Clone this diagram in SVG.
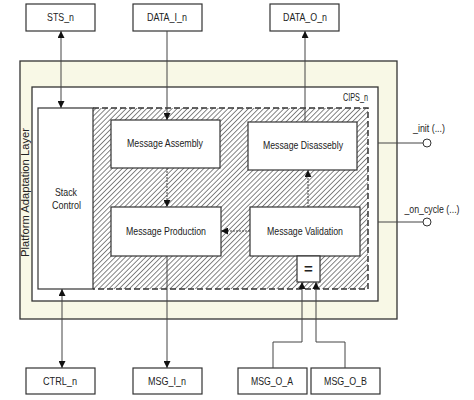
<svg xmlns="http://www.w3.org/2000/svg" width="474" height="400" viewBox="0 0 474 400">
<style>
.box{fill:#fff;stroke:#333;stroke-width:1.2}
.t{font-family:"Liberation Sans",Arial,sans-serif;font-size:10.5px;fill:#222;text-anchor:middle}
.ln{fill:none;stroke:#444;stroke-width:1}
.dot{fill:none;stroke:#444;stroke-width:1;stroke-dasharray:2,1}
</style>
<defs>
<pattern id="hatch" width="3.6" height="3.6" patternUnits="userSpaceOnUse" patternTransform="rotate(45)">
<rect width="3.6" height="3.6" fill="#fff"/>
<line x1="0" y1="0" x2="0" y2="3.6" stroke="#444" stroke-width="1.3"/>
</pattern>
<marker id="ah" viewBox="0 0 10 10" refX="10" refY="5" markerWidth="7" markerHeight="7" markerUnits="userSpaceOnUse" orient="auto-start-reverse">
<path d="M0,0 L10,5 L0,10 z" fill="#111"/>
</marker>
</defs>
<rect width="474" height="400" fill="#fff"/>
<g id="pal">
<rect x="20" y="61" width="377" height="258" fill="#f8f8e6" stroke="#333" stroke-width="1.3"/>
<text class="t" transform="translate(29,192.5) rotate(-90)" textLength="129" lengthAdjust="spacingAndGlyphs">Platform Adaptation Layer</text>
</g>
<g id="cips">
<rect x="32" y="87" width="346" height="214" fill="#fff" stroke="#333" stroke-width="1.3"/>
<text class="t" x="355.5" y="101" textLength="25" lengthAdjust="spacingAndGlyphs">CIPS_n</text>
</g>
<g id="hatched">
<path d="M93,108 H368 V289 H93" fill="url(#hatch)"/>
<path d="M93,108 H368 V289 H93" fill="none" stroke="#333" stroke-width="1.5" stroke-dasharray="6,3"/>
</g>
<g id="stack">
<rect class="box" x="38" y="108" width="55" height="181"/>
<text class="t" x="66" y="196" textLength="22" lengthAdjust="spacingAndGlyphs">Stack</text>
<text class="t" x="66.5" y="209" textLength="29" lengthAdjust="spacingAndGlyphs">Control</text>
</g>
<g id="assembly">
<rect class="box" x="111" y="120" width="109" height="48"/>
<text class="t" x="165" y="147" textLength="76" lengthAdjust="spacingAndGlyphs">Message Assembly</text>
</g>
<g id="disassembly">
<rect class="box" x="248" y="122" width="109" height="48"/>
<text class="t" x="303" y="149" textLength="80" lengthAdjust="spacingAndGlyphs">Message Disassebly</text>
</g>
<g id="production">
<rect class="box" x="111" y="207" width="110" height="49"/>
<text class="t" x="166" y="235" textLength="80" lengthAdjust="spacingAndGlyphs">Message Production</text>
</g>
<g id="validation">
<rect class="box" x="250" y="207" width="110" height="49"/>
<text class="t" x="305" y="235" textLength="76" lengthAdjust="spacingAndGlyphs">Message Validation</text>
</g>
<g id="eq">
<rect class="box" x="297" y="256" width="23" height="26"/>
<text x="308.5" y="274" style="font-family:'Liberation Sans',Arial,sans-serif;font-size:15px;font-weight:bold;text-anchor:middle;fill:#222">=</text>
</g>
<g id="sts"><rect class="box" x="26" y="4" width="69" height="27"/><text class="t" x="60.5" y="21" textLength="27" lengthAdjust="spacingAndGlyphs">STS_n</text></g>
<g id="datai"><rect class="box" x="133" y="4" width="69" height="27"/><text class="t" x="167" y="21" textLength="40" lengthAdjust="spacingAndGlyphs">DATA_I_n</text></g>
<g id="datao"><rect class="box" x="270" y="4" width="69" height="27"/><text class="t" x="305" y="21" textLength="44" lengthAdjust="spacingAndGlyphs">DATA_O_n</text></g>
<g id="ctrl"><rect class="box" x="26" y="368" width="69" height="26"/><text class="t" x="60" y="385" textLength="34" lengthAdjust="spacingAndGlyphs">CTRL_n</text></g>
<g id="msgi"><rect class="box" x="133" y="368" width="69" height="26"/><text class="t" x="167" y="385" textLength="38" lengthAdjust="spacingAndGlyphs">MSG_I_n</text></g>
<g id="msgoa"><rect class="box" x="238" y="368" width="69" height="26"/><text class="t" x="272" y="385" textLength="42" lengthAdjust="spacingAndGlyphs">MSG_O_A</text></g>
<g id="msgob"><rect class="box" x="311" y="368" width="69" height="26"/><text class="t" x="345.5" y="385" textLength="43" lengthAdjust="spacingAndGlyphs">MSG_O_B</text></g>
<g id="init">
<circle cx="427" cy="143" r="4" fill="#fff" stroke="#333"/>
<text class="t" x="429" y="132" textLength="32" lengthAdjust="spacingAndGlyphs">_init (...)</text>
</g>
<g id="oncycle">
<circle cx="427" cy="222" r="4" fill="#fff" stroke="#333"/>
<text class="t" x="432" y="213" textLength="55" lengthAdjust="spacingAndGlyphs">_on_cycle (...)</text>
</g>
<g id="connectors">
<line class="ln" x1="61" y1="31" x2="61" y2="108" marker-start="url(#ah)" marker-end="url(#ah)"/>
<line class="ln" x1="167" y1="31" x2="167" y2="120" marker-end="url(#ah)"/>
<line class="ln" x1="305" y1="122" x2="305" y2="31" marker-end="url(#ah)"/>
<line class="dot" x1="167" y1="168" x2="167" y2="207" marker-end="url(#ah)"/>
<line class="dot" x1="308" y1="207" x2="308" y2="170" marker-end="url(#ah)"/>
<line class="dot" x1="250" y1="231" x2="221" y2="231" marker-end="url(#ah)"/>
<line class="ln" x1="62" y1="289" x2="62" y2="368" marker-start="url(#ah)" marker-end="url(#ah)"/>
<line class="ln" x1="167" y1="256" x2="167" y2="368" marker-end="url(#ah)"/>
<path class="ln" d="M273,368 V342 H302 V282" marker-end="url(#ah)"/>
<path class="ln" d="M345,368 V342 H316 V282" marker-end="url(#ah)"/>
<line class="ln" x1="378" y1="143" x2="423" y2="143"/>
<line class="ln" x1="378" y1="222" x2="423" y2="222"/>
</g>
</svg>
